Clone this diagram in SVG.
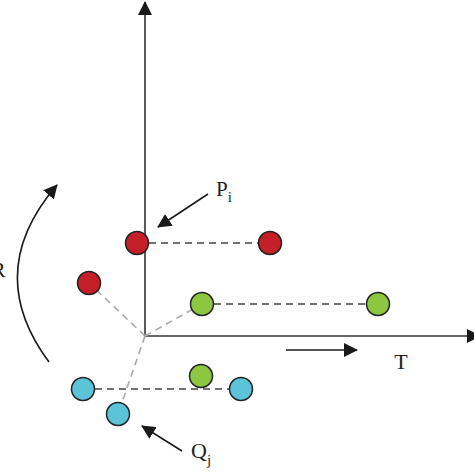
<svg xmlns="http://www.w3.org/2000/svg" width="474" height="474" viewBox="0 0 474 474">
<defs>
<marker id="ahs" markerWidth="14" markerHeight="14" refX="13" refY="7" orient="auto" markerUnits="userSpaceOnUse" viewBox="0 0 14 14">
<path d="M0,0 L14,7 L0,14 Z" fill="#1a1a1a"/>
</marker>
</defs>
<style>
.axis{stroke:#333;stroke-width:1.6;fill:none}
.dash{stroke:#444;stroke-width:1.6;stroke-dasharray:7,5;fill:none}
.gdash{stroke:#aaa;stroke-width:1.6;stroke-dasharray:7,5;fill:none}
.arr{stroke:#1a1a1a;stroke-width:1.6;fill:none}
.red{fill:#C41E26;stroke:#222;stroke-width:1.5}
.green{fill:#8DC63F;stroke:#222;stroke-width:1.5}
.cyan{fill:#5BC4D8;stroke:#222;stroke-width:1.5}
.lbl{font-family:"Liberation Serif",serif;font-size:22px;fill:#222}
.sub{font-family:"Liberation Serif",serif;font-size:15px;fill:#222}
</style>
<g id="connectors">
<line class="axis" x1="145" y1="336" x2="145" y2="2" marker-end="url(#ahs)"/>
<line class="axis" x1="145" y1="336" x2="480" y2="336" marker-end="url(#ahs)"/>
<line class="gdash" x1="145" y1="336" x2="89" y2="283"/>
<line class="gdash" x1="145" y1="336" x2="202" y2="304"/>
<line class="gdash" x1="145" y1="336" x2="118" y2="414"/>
<line class="dash" x1="137" y1="243" x2="270" y2="243"/>
<line class="dash" x1="202" y1="304" x2="378" y2="304"/>
<line class="dash" x1="83" y1="389" x2="241" y2="389"/>
<line class="arr" x1="208" y1="194" x2="158" y2="227" marker-end="url(#ahs)"/>
<line class="arr" x1="182" y1="451" x2="142" y2="426" marker-end="url(#ahs)"/>
<line class="arr" x1="286" y1="350" x2="357" y2="350" marker-end="url(#ahs)"/>
<path class="arr" d="M49,362 Q-18,272 57,185" marker-end="url(#ahs)"/>
</g>
<g id="p-red-1"><circle class="red" cx="137" cy="243" r="11.5"/></g>
<g id="p-red-2"><circle class="red" cx="270" cy="243" r="11.5"/></g>
<g id="p-red-3"><circle class="red" cx="89" cy="283" r="11.5"/></g>
<g id="p-green-1"><circle class="green" cx="202" cy="304" r="11.5"/></g>
<g id="p-green-2"><circle class="green" cx="378" cy="304" r="11.5"/></g>
<g id="p-green-3"><circle class="green" cx="201" cy="376" r="11.5"/></g>
<g id="q-cyan-1"><circle class="cyan" cx="83" cy="389" r="11.5"/></g>
<g id="q-cyan-2"><circle class="cyan" cx="241" cy="389" r="11.5"/></g>
<g id="q-cyan-3"><circle class="cyan" cx="118" cy="414" r="11.5"/></g>
<g id="label-p"><text class="lbl" x="216" y="196" style="font-size:21px">P<tspan class="sub" dy="6">i</tspan></text></g>
<g id="label-q"><text class="lbl" x="191" y="458">Q<tspan class="sub" dy="7">j</tspan></text></g>
<g id="label-t"><text class="lbl" x="401" y="369" text-anchor="middle">T</text></g>
<g id="label-r"><text class="lbl" x="-9" y="277">R</text></g>
</svg>
